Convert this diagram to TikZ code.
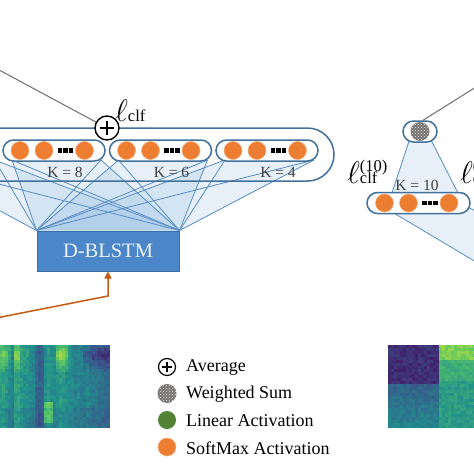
\documentclass[tikz,border=0pt]{standalone}
\usepackage{amsmath}
\usepackage{graphicx}
\usepackage{fontspec}
\setmainfont{Liberation Serif}
\usetikzlibrary{patterns,arrows.meta}
\definecolor{frame}{RGB}{65,113,156}
\definecolor{fanline}{RGB}{86,140,198}
\definecolor{fanfill}{RGB}{91,155,213}
\definecolor{softorange}{RGB}{237,125,49}
\definecolor{lingreen}{RGB}{84,130,53}
\definecolor{boxfill}{RGB}{74,134,200}
\definecolor{boxdraw}{RGB}{58,110,165}
\definecolor{arroworange}{RGB}{197,90,17}
\definecolor{wsgray}{RGB}{120,115,115}
\definecolor{ktext}{RGB}{64,64,64}
\definecolor{linkgray}{RGB}{110,110,110}
\definecolor{vp}{RGB}{68,1,84}
\definecolor{vb}{RGB}{59,82,139}
\definecolor{vt}{RGB}{33,144,140}
\definecolor{vg}{RGB}{93,200,99}
\definecolor{vy}{RGB}{253,231,37}
\newcommand{\vircolor}[1]{%
  \pgfmathsetmacro\vv{max(0,min(0.999,#1))}%
  \pgfmathtruncatemacro\vseg{int(\vv*4)}%
  \pgfmathtruncatemacro\vpct{(\vv*4-\vseg)*100}%
  \ifcase\vseg \colorlet{sc}{vb!\vpct!vp}\or \colorlet{sc}{vt!\vpct!vb}\or \colorlet{sc}{vg!\vpct!vt}\or \colorlet{sc}{vy!\vpct!vg}\fi}
\def\lbase{{0.56,0.56,0.52,0.48,0.45,0.58,0.58,0.52,0.5,0.5,0.47,0.45,0.34,0.3,0.34,0.5,0.54,0.5,0.48,0.52,0.54,0.54,0.5,0.48,0.47,0.44,0.46,0.43,0.42,0.45,0.42,0.4,0.42,0.38,0.38,0.36,0.35}}
\def\ltop{{0.2,0.22,0.2,0.15,0,0.22,0.24,0.1,0.08,0.05,0,0,0,0,0,0,0,0,0.05,0.3,0.32,0.32,0.26,0.08,0,0,0,0,-0.12,-0.15,-0.18,-0.2,-0.22,-0.22,-0.22,-0.22,-0.22}}
\tikzset{
  grp/.style={draw=frame, line width=1.5pt, fill=white, rounded corners=10.5pt, minimum width=102pt, minimum height=21pt, inner sep=0pt},
  unit/.style={circle, fill=softorange, draw=softorange!60!white, line width=0.6pt, minimum size=18pt, inner sep=0pt},
  fanl/.style={draw=fanline, line width=0.8pt},
  fanf/.style={fill=fanfill, fill opacity=0.14},
  klabel/.style={text=ktext, font=\fontsize{15.5}{18}\selectfont, inner sep=0pt},
  leg/.style={font=\fontsize{18}{21}\selectfont, anchor=west, inner sep=0pt},
  ell/.style={anchor=base west, inner sep=0pt, font=\fontsize{22}{26}\selectfont},
  sumnode/.style={circle, draw=black, fill=white, line width=1.4pt, inner sep=0pt},
  wsdot/.style={circle, fill=wsgray, inner sep=0pt, minimum size=19pt, postaction={pattern=crosshatch dots, pattern color=white!85!gray}},
  graylink/.style={draw=linkgray, line width=1pt},
}
\newcommand{\bigell}{\scalebox{1.5}{$\ell$}}
\newcommand{\scr}[1]{{\fontsize{16.5}{17}\selectfont #1}}
\begin{document}
\begin{tikzpicture}[x=1pt,y=-1pt]
\useasboundingbox (0,0) rectangle (474,474);
\clip (0,0) rectangle (474,474);
\fill[white] (0,0) rectangle (474,474);

% D-BLSTM box
\node[draw=boxdraw, fill=boxfill, line width=1pt, minimum width=142pt, minimum height=40pt, inner sep=0pt,
      text={rgb,255:red,238;green,243;blue,250}, font=\fontsize{20.5}{24}\selectfont] (dblstm) at (108,251) {D-BLSTM};

% fan end coordinates
\foreach \i/\cx in {0/-52.5,1/54,2/160.5,3/267} {
  \coordinate (bl\i) at (\cx-42,160);
  \coordinate (br\i) at (\cx+47,160);
}
\foreach \i in {0,...,3} {
  \fill[fanf] (bl\i) -- (br\i) -- (dblstm.north east) -- (dblstm.north west) -- cycle;
  \draw[fanl] (bl\i) -- (dblstm.north west);
  \draw[fanl] (bl\i) -- (dblstm.north east);
  \draw[fanl] (br\i) -- (dblstm.north west);
  \draw[fanl] (br\i) -- (dblstm.north east);
}

% outer container
\node[draw=frame, line width=1.5pt, rounded corners=26.5pt, minimum width=452pt, minimum height=53pt, inner sep=0pt] (outer) at (108,154.5) {};

% groups
\foreach \i/\cx/\k in {1/54/8,2/160.5/6,3/267/4} {
  \node[grp] (g\i) at (\cx,150.5) {};
  \foreach \dx [count=\j] in {-34,-10,30.5} \node[unit] (u\i\j) at (\cx+\dx,150.5) {};
  \foreach \dx in {6,11.5,17} \fill (\cx+\dx-2.2,148.3) rectangle (\cx+\dx+2.2,152.7);
  \node[klabel] (k\i) at (\cx+11,172) {K = \k};
}

% average node and loss
\node[sumnode, minimum size=24pt] (avg) at (107,128) {};
\draw[line width=1.3pt] ([xshift=-7pt]avg.center) -- ([xshift=7pt]avg.center);
\draw[line width=1.3pt] ([yshift=-7pt]avg.center) -- ([yshift=7pt]avg.center);
\node[ell] (lclf) at (115,121) {\bigell\scr{clf}};
\coordinate (lin) at (-20,59.7);
\draw[graylink] (lin) -- (avg);

% input arrow
\coordinate (ain) at (-10,319.2);
\draw[draw=arroworange, line width=1.5pt, -{Triangle[length=7pt,width=7pt]}] (ain) -- (108,296) -- (dblstm.south);

% right part: fans
\coordinate (wsl) at (410,138);
\coordinate (wsr) at (430,138);
\coordinate (t10l) at (392,193);
\coordinate (t10r) at (458,193);
\fill[fanf] (wsl) -- (wsr) -- (t10r) -- (t10l) -- cycle;
\draw[fanl] (wsl) -- (t10l);
\draw[fanl] (wsr) -- (t10r);
\coordinate (b10l) at (392,212);
\coordinate (b10r) at (467,207);
\coordinate (rbl) at (540,300);
\coordinate (rbr) at (680,300);
\fill[fanf] (b10l) -- (b10r) -- (rbr) -- (rbl) -- cycle;
\draw[fanl] (b10l) -- (rbl);
\draw[fanl] (b10r) -- (rbr);

% weighted sum node
\node[draw=frame, line width=1.5pt, fill=white, rounded corners=10.5pt, minimum width=34pt, minimum height=21pt, inner sep=0pt] (ws) at (420,131.5) {};
\node[wsdot] (wsc) at (420,131.5) {};
\coordinate (wsout) at (500,72);
\draw[graylink] ([xshift=3pt]ws.north) -- (wsout);

% K = 10 group
\node[grp, minimum width=103pt] (g10) at (418.5,203) {};
\foreach \dx [count=\j] in {-34,-10,30.5} \node[unit] (u10\j) at (418.5+\dx,203) {};
\foreach \dx in {6,11.5,17} \fill (418.5+\dx-2.2,200.8) rectangle (418.5+\dx+2.2,205.2);
\node[klabel] (k10) at (417,185) {K = 10};
\node[ell] (lclf10) at (347,183) {\bigell\rlap{\scr{clf}}\raisebox{11.5pt}{\scr{(10)}}};
\node[ell] (lclf8) at (460,183) {\bigell\rlap{\scr{clf}}\raisebox{11.5pt}{\scr{(8)}}};

% legend
\node[sumnode, minimum size=17pt, line width=1.2pt] (lavg) at (167,367) {};
\draw[line width=1.2pt] ([xshift=-5pt]lavg.center) -- ([xshift=5pt]lavg.center);
\draw[line width=1.2pt] ([yshift=-5pt]lavg.center) -- ([yshift=5pt]lavg.center);
\node[wsdot] (lws) at (167,393.5) {};
\node[circle, fill=lingreen, minimum size=18pt, inner sep=0pt] (llin) at (167,420) {};
\node[unit] (lsoft) at (167,447) {};
\node[leg] (tavg) at (186,367) {Average};
\node[leg] (tws) at (186,394) {Weighted Sum};
\node[leg] (tlin) at (186,421) {Linear Activation};
\node[leg] (tsoft) at (186,448) {SoftMax Activation};

% spectrograms
\pgfmathsetseed{7}
\foreach \c in {0,...,36} {
  \pgfmathsetmacro\cb{\lbase[\c]}
  \pgfmathsetmacro\ct{\ltop[\c]}
  \foreach \r in {0,...,27} {
    \pgfmathsetmacro\val{\cb + (\r<9)*\ct*(1-abs(\r-3)/6) + (\c>14)*(\c<18)*(\r>18)*(\r<26)*0.22 - (\r>20)*0.04 + 0.1*(rnd-0.5)}
    \vircolor{\val}
    \fill[sc] (-1+3*\c,345+3*\r) rectangle (-1+3*\c+3.3,345+3*\r+3.3);
  }
}
\fill[white] (110,345) rectangle (114,430);
\fill[white] (-2,428) rectangle (114,432);
\foreach \c in {0,...,28} {
  \foreach \r in {0,...,27} {
    \pgfmathsetmacro\val{(\c<17)*((\r<13)*0.14 + (\r>12)*(0.32+0.01*(\r-13))) + (\c>16)*(0.55 + (\r<5)*0.25 + (\r>4)*(\r<12)*0.08) + 0.1*(rnd-0.5)}
    \vircolor{\val}
    \fill[sc] (388+3*\c,345+3*\r) rectangle (388+3*\c+3.3,345+3*\r+3.3);
  }
}
\fill[white] (380,428) rectangle (480,432);
\end{tikzpicture}
\end{document}
